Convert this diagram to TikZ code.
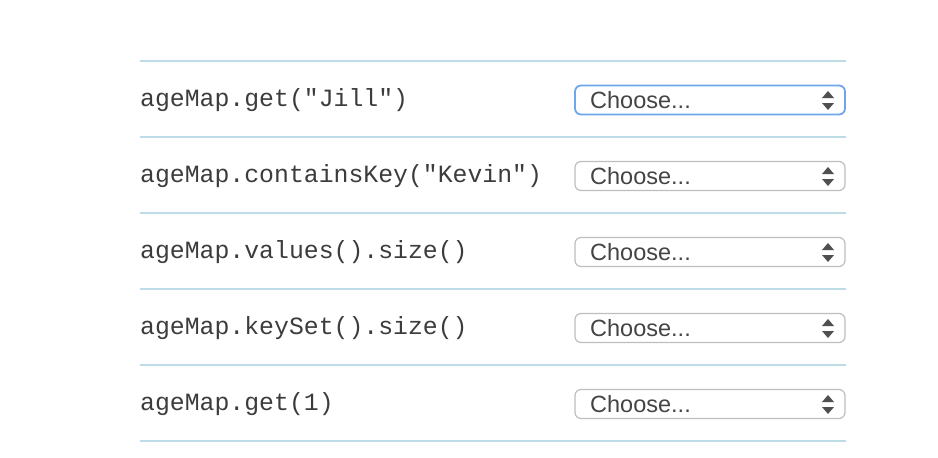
\documentclass[tikz,border=0pt]{standalone}
\usepackage{fontspec}
\setmainfont{Liberation Sans}
\setmonofont{Liberation Mono}
\begin{document}
\begin{tikzpicture}[x=1pt,y=-1pt,
  sep/.style={draw={rgb,255:red,190;green,220;blue,232},line width=1.2pt},
  code/.style={anchor=west,inner sep=0,font=\fontsize{24.8}{26}\ttfamily,text={rgb,255:red,60;green,60;blue,60}},
  sel/.style={draw={rgb,255:red,190;green,190;blue,190},line width=1.2pt,rounded corners=6pt,fill=white},
  selfoc/.style={draw={rgb,255:red,110;green,165;blue,235},line width=1.8pt,rounded corners=6pt,fill=white},
  choose/.style={anchor=west,inner sep=0,font=\fontsize{23.5}{25}\selectfont,text={rgb,255:red,68;green,68;blue,68}},
  tri/.style={fill={rgb,255:red,80;green,80;blue,80}}]
\useasboundingbox (0,0) rectangle (938,458);
\foreach \y in {61,137,213,289,365,441} \draw[sep] (140,\y) -- (846,\y);
\foreach \t/\y/\n in {{ageMap.get("Jill")}/100/1,{ageMap.containsKey("Kevin")}/176/2,{ageMap.values().size()}/252/3,{ageMap.keySet().size()}/328/4,{ageMap.get(1)}/404/5}{
  \node[code] (l\n) at (140,\y) {\t};
  \ifnum\n=1 \draw[selfoc] (575,\y-14.5) rectangle (845,\y+14.5);
  \else \draw[sel] (575,\y-14.5) rectangle (845,\y+14.5); \fi
  \node[choose] (s\n) at (590,\y) {Choose...};
  \fill[tri] (822,\y-2) -- (834,\y-2) -- (828,\y-9) -- cycle;
  \fill[tri] (822,\y+3) -- (834,\y+3) -- (828,\y+10) -- cycle;
}
\end{tikzpicture}
\end{document}
